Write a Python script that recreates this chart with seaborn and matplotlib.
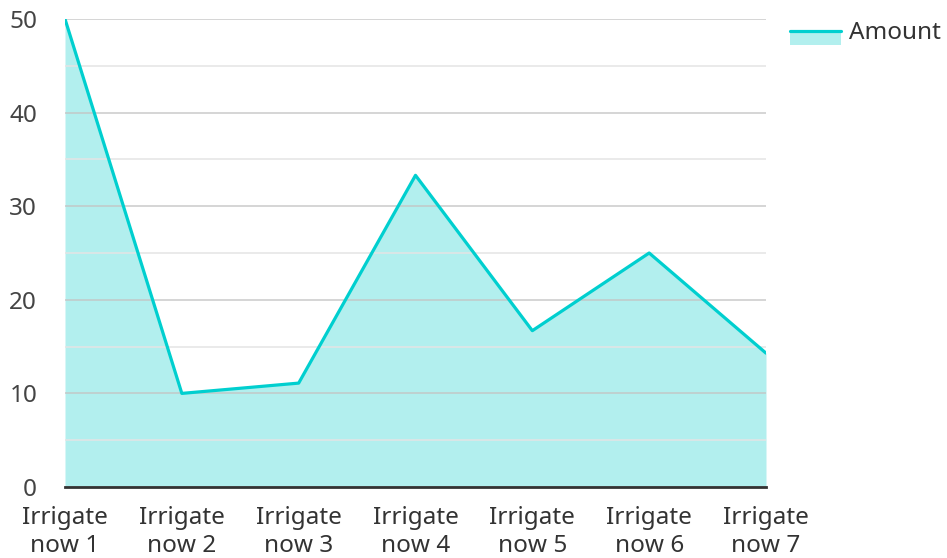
import matplotlib
matplotlib.use("Agg")
import matplotlib.pyplot as plt
import seaborn as sns
import pandas as pd
from matplotlib.legend_handler import HandlerBase
from matplotlib.patches import Rectangle
from matplotlib.lines import Line2D
from matplotlib.ticker import MultipleLocator

categories = ["Irrigate\nnow 1", "Irrigate\nnow 2", "Irrigate\nnow 3", "Irrigate\nnow 4",
              "Irrigate\nnow 5", "Irrigate\nnow 6", "Irrigate\nnow 7"]
amount = [50, 10, 11.1, 33.3, 16.7, 25, 14.3]
y_ticks = [0, 10, 20, 30, 40, 50]

LINE = "#00CFCF"
FILL = "#B2EFEE"
FS = 17.5

sns.set_theme(style="white")
plt.rcParams["font.family"] = ["Noto Sans", "DejaVu Sans"]

df = pd.DataFrame({"x": range(len(categories)), "Amount": amount})

fig = plt.figure(figsize=(9.47, 5.58), dpi=100)
ax = fig.add_axes([65 / 947, 1 - 487 / 558, (766 - 65) / 947, (487 - 19) / 558])

ax.fill_between(df["x"], df["Amount"], 0, color=FILL, linewidth=0, zorder=1)
sns.lineplot(data=df, x="x", y="Amount", color=LINE, linewidth=2.3, ax=ax, zorder=3, legend=False)

ax.set_xlim(0, len(categories) - 1)
ax.set_ylim(0, 50)
ax.set_xticks(range(len(categories)))
ax.set_xticklabels(categories, fontsize=FS, color="#333333", linespacing=1.2)
ax.set_yticks(y_ticks)
ax.set_yticklabels([str(v) for v in y_ticks], fontsize=FS, color="#444444")
ax.yaxis.set_minor_locator(MultipleLocator(5))
ax.set_xlabel("")
ax.set_ylabel("")
ax.tick_params(axis="x", length=0, pad=14)
ax.tick_params(axis="y", which="both", length=0, pad=20)

ax.set_axisbelow(False)
ax.grid(axis="y", which="major", color="#c4c4c4", linewidth=1.1, zorder=2, alpha=0.9)
ax.grid(axis="y", which="minor", color="#e4e4e4", linewidth=1.1, zorder=2)
ax.grid(axis="x", visible=False)

for s in ["top", "right", "left"]:
    ax.spines[s].set_visible(False)
ax.spines["bottom"].set_color("#333333")
ax.spines["bottom"].set_linewidth(2)
ax.spines["bottom"].set_zorder(4)


class AreaHandler(HandlerBase):
    def create_artists(self, legend, orig_handle, xdescent, ydescent, width, height, fontsize, trans):
        y0 = -ydescent - height * 0.55
        h = height * 1.0
        top = y0 + h
        r = Rectangle((-xdescent, y0), width, h, facecolor=FILL,
                      edgecolor="none", transform=trans)
        l = Line2D([-xdescent, -xdescent + width], [top, top], color=LINE, lw=2.3, transform=trans)
        return [r, l]


handle = Rectangle((0, 0), 1, 1)
leg = fig.legend([handle], ["Amount"], handler_map={Rectangle: AreaHandler()},
                 loc="upper left", bbox_to_anchor=(785 / 947, 1 - 16 / 558),
                 frameon=False, fontsize=FS, handlelength=2.1, handleheight=0.5,
                 handletextpad=0.35, borderaxespad=0, borderpad=0.2)
for t in leg.get_texts():
    t.set_color("#333333")

fig.savefig("out.png", dpi=100)
